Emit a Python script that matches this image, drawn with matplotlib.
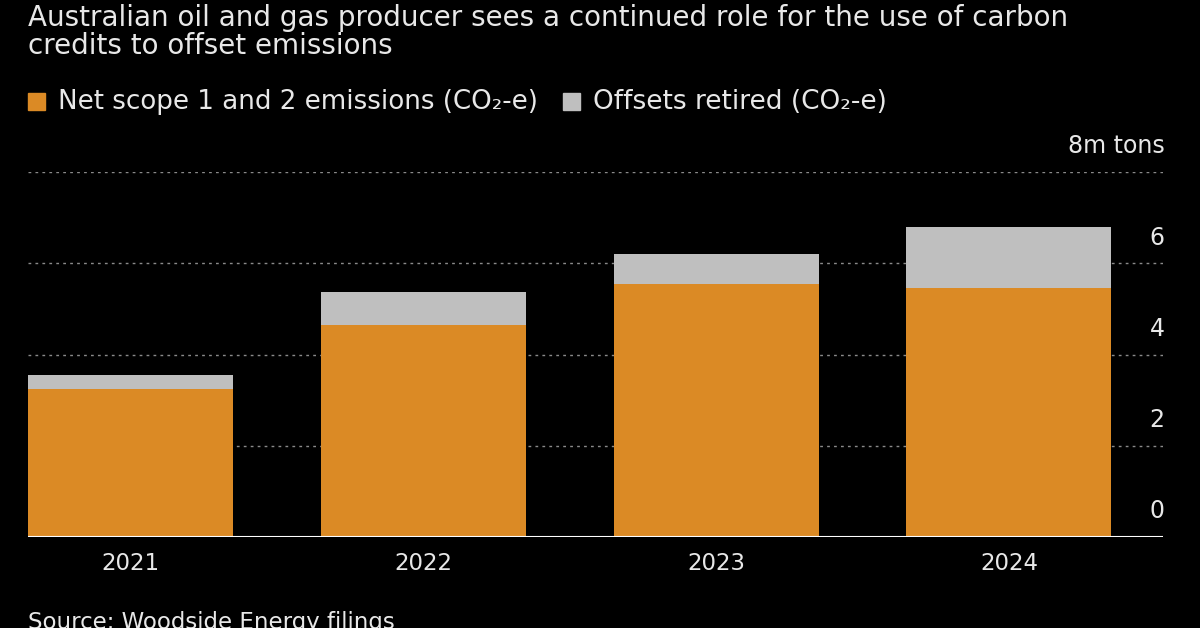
import matplotlib.pyplot as plt

# data (million tons CO2-e)
years = ["2021", "2022", "2023", "2024"]
net_emissions = [3.25, 4.65, 5.55, 5.45]
offsets_retired = [0.30, 0.72, 0.65, 1.35]
y_ticks = [0, 2, 4, 6, 8]

orange = "#DB8A25"
grey = "#BFBFBF"
txt = "#E8E8E8"

plt.rcParams['font.family'] = ['DejaVu Sans']

fig = plt.figure(figsize=(12, 6.28), dpi=100, facecolor="black")
ax = fig.add_axes([0.0233, 0.1449, 0.9458, 0.5811], facecolor="black")

x = list(range(len(years)))
ax.bar(x, net_emissions, width=0.7, color=orange, zorder=3)
ax.bar(x, offsets_retired, width=0.7, bottom=net_emissions, color=grey, zorder=3)

ax.set_xlim(-0.35, 3.526)
ax.set_ylim(0, 8)

# dotted gridlines, solid baseline
for t in y_ticks[1:]:
    ax.axhline(t, color="#8A8A8A", lw=1, ls=(0, (2, 3)), zorder=1)
ax.axhline(0, color="white", lw=1.5, zorder=4)

for s in ax.spines.values():
    s.set_visible(False)
ax.set_yticks([])
ax.set_xticks(x)
ax.set_xticklabels(years, color=txt, fontsize=16.5)
ax.tick_params(axis="x", length=0, pad=11)

# y labels sit above the gridlines, right aligned
for t in y_ticks:
    lab = "8m tons" if t == 8 else str(t)
    ax.text(1.0015, t + 0.3, lab, transform=ax.get_yaxis_transform(),
            ha="right", va="bottom", color=txt, fontsize=17)

fig.text(0.0233, 1 - 4 / 628, "Australian oil and gas producer sees a continued role for the use of carbon\ncredits to offset emissions",
         ha="left", va="top", color=txt, fontsize=20, linespacing=1.02)

# legend
fig.patches.append(plt.Rectangle((28 / 1200, 1 - 110 / 628), 17 / 1200, 17 / 628,
                                 transform=fig.transFigure, color=orange))
fig.text(58 / 1200, 1 - 102 / 628, "Net scope 1 and 2 emissions (CO₂-e)",
         ha="left", va="center", color=txt, fontsize=18.8)
fig.patches.append(plt.Rectangle((563 / 1200, 1 - 110 / 628), 17 / 1200, 17 / 628,
                                 transform=fig.transFigure, color=grey))
fig.text(593 / 1200, 1 - 102 / 628, "Offsets retired (CO₂-e)",
         ha="left", va="center", color=txt, fontsize=19)

fig.text(0.0233, 1 - 622 / 628, "Source: Woodside Energy filings",
         ha="left", va="center", color=txt, fontsize=16.5)

fig.savefig("out.png", dpi=100, facecolor="black")
